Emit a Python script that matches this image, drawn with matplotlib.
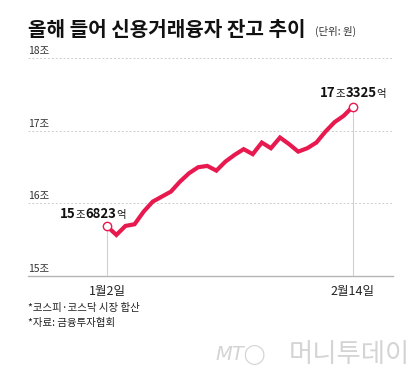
import matplotlib
matplotlib.use("Agg")
import matplotlib.pyplot as plt

plt.rcParams['font.family'] = ['Noto Sans CJK KR', 'DejaVu Sans']

# 신용거래융자 잔고 (조원), 1월2일 ~ 2월14일
balance = [15.6823, 15.566, 15.690, 15.713, 15.887, 16.025, 16.094, 16.163,
           16.301, 16.417, 16.499, 16.517, 16.452, 16.577, 16.669, 16.748,
           16.679, 16.839, 16.761, 16.908, 16.817, 16.714, 16.761, 16.839,
           16.990, 17.120, 17.207, 17.3325]
y_ticks = [15, 16, 17, 18]
y_tick_labels = ["15조", "16조", "17조", "18조"]
x_labels = ["1월2일", "2월14일"]
first_label = [("15", "bold", 9.5), ("조", "normal", 7.5), ("6823", "bold", 9.5), ("억", "normal", 7.5)]
last_label = [("17", "bold", 9.5), ("조", "normal", 7.5), ("3325", "bold", 9.5), ("억", "normal", 7.5)]

RED = "#e8194f"

fig = plt.figure(figsize=(4.2, 3.84), dpi=100)
ax = fig.add_axes([28 / 420, 1 - 276 / 384, 365 / 420, (276 - 58.3) / 384])

xs = list(range(len(balance)))
last = xs[-1]
ax.set_xlim(-8.72, last + 4.43)
ax.set_ylim(15, 18)

# grid
for v in y_ticks[1:]:
    ax.axhline(v, color="#cccccc", lw=0.7, ls=(0, (2, 2)), zorder=1)
ax.axhline(15, color="#b5b5b5", lw=1.0, zorder=1, clip_on=False)

# guide lines down from the two end points
for i in (0, last):
    ax.plot([i, i], [15, balance[i]], color="#d0d0d0", lw=0.8, zorder=2)

ax.plot(xs, balance, color=RED, lw=3.0, solid_joinstyle="miter", zorder=3)
ax.plot([0, last], [balance[0], balance[-1]], ls="none", marker="o", ms=6,
        mfc="white", mec=RED, mew=1.0, zorder=4)

for sp in ax.spines.values():
    sp.set_visible(False)
ax.set_xticks([])
ax.set_yticks([])

for v, lab in zip(y_ticks, y_tick_labels):
    ax.annotate(lab, (0, v), xycoords=ax.get_yaxis_transform(), xytext=(0, 1.5),
                textcoords="offset points", ha="left", va="bottom",
                fontsize=7.5, color="#333333")

for i, lab in zip((0, last), x_labels):
    ax.text(i, 14.79, lab, ha="center", va="center", fontsize=9, color="#222222")


def piece_text(x_px, y_px, parts, align="right"):
    # lay out mixed-size pieces one after another on a shared baseline
    renderer = fig.canvas.get_renderer()
    items = []
    total = 0
    for s, w, size in parts:
        t = fig.text(0, 0, s, fontweight=w, fontsize=size, color="#111111",
                     va="baseline", ha="left", transform=None)
        wd = t.get_window_extent(renderer).width
        items.append((t, wd))
        total += wd
    x = x_px - total if align == "right" else x_px
    for t, wd in items:
        t.set_position((x, y_px))
        x += wd


# pixel coords (origin bottom-left)
piece_text(126, 384 - 218, first_label, align="right")
piece_text(320, 384 - 97, last_label, align="left")

fig.text(28 / 420, 1 - 30 / 384, "올해 들어 신용거래융자 잔고 추이", fontsize=14.5,
         fontweight="bold", color="#111111", ha="left", va="center")
fig.text(315 / 420, 1 - 31 / 384, "(단위: 원)", fontsize=7.5, color="#333333",
         ha="left", va="center")

fig.text(28 / 420, 1 - 308 / 384, "*코스피·코스닥 시장 합산", fontsize=7.5,
         color="#222222", ha="left", va="center")
fig.text(28 / 420, 1 - 323 / 384, "*자료: 금융투자협회", fontsize=7.5,
         color="#222222", ha="left", va="center")

fig.text(266 / 420, 1 - 355 / 384, "MT◯", fontsize=14, color="#d4d4d4",
         ha="right", va="center", style="italic", family="DejaVu Sans")
fig.text(410 / 420, 1 - 355 / 384, "머니투데이", fontsize=19, color="#d4d4d4",
         ha="right", va="center", fontweight="light")

fig.savefig("out.png", dpi=100)
